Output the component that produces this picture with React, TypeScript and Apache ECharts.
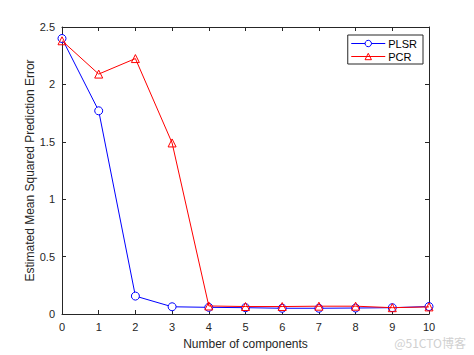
import React, { useEffect, useRef } from "react";
import * as echarts from "echarts";

const components = [0, 1, 2, 3, 4, 5, 6, 7, 8, 9, 10];
const plsrValues = [2.40, 1.77, 0.156, 0.063, 0.058, 0.055, 0.05, 0.05, 0.052, 0.055, 0.065];
const pcrValues = [2.38, 2.09, 2.225, 1.49, 0.07, 0.065, 0.065, 0.068, 0.068, 0.055, 0.062];
const xLabel = "Number of components";
const yLabel = "Estimated Mean Squared Prediction Error";

const FONT = "Liberation Sans, Arial, sans-serif";
const AX = "#262626";

export default function App() {
  const ref = useRef<HTMLDivElement>(null);
  useEffect(() => {
    if (!ref.current) return;
    const chart = echarts.init(ref.current, null, { renderer: "svg" });
    const pair = (vals: number[]) => components.map((c, i) => [c, vals[i]]);
    const baseX = {
      type: "value" as const,
      min: 0,
      max: 10,
      interval: 1,
      splitLine: { show: false },
      axisLine: { show: true, onZero: false, lineStyle: { color: AX, width: 1 } },
      axisTick: { show: true, inside: true, length: 4, lineStyle: { color: AX } },
    };
    const baseY = {
      type: "value" as const,
      min: 0,
      max: 2.5,
      interval: 0.5,
      splitLine: { show: false },
      axisLine: { show: true, onZero: false, lineStyle: { color: AX, width: 1 } },
      axisTick: { show: true, inside: true, length: 4, lineStyle: { color: AX } },
    };
    chart.setOption({
      animation: false,
      backgroundColor: "#fff",
      textStyle: { fontFamily: FONT },
      grid: { left: 62, top: 27, width: 367, height: 289, show: false },
      xAxis: [
        {
          ...baseX,
          position: "bottom",
          name: xLabel,
          nameLocation: "middle",
          nameGap: 24,
          nameMoveOverlap: false,
          nameTextStyle: { color: AX, fontSize: 12, fontFamily: FONT },
          axisLabel: { color: AX, fontSize: 11, margin: 7, fontFamily: FONT },
        },
        { ...baseX, position: "top", axisLabel: { show: false } },
      ],
      yAxis: [
        {
          ...baseY,
          position: "left",
          name: yLabel,
          nameLocation: "middle",
          nameGap: 26,
          nameMoveOverlap: false,
          nameTextStyle: { color: AX, fontSize: 12, fontFamily: FONT },
          axisLabel: { color: AX, fontSize: 11, margin: 7, fontFamily: FONT },
        },
        { ...baseY, position: "right", axisLabel: { show: false } },
      ],
      legend: {
        right: 51,
        top: 35,
        orient: "vertical",
        backgroundColor: "#fff",
        borderColor: AX,
        borderWidth: 1,
        borderRadius: 0,
        padding: [3, 6, 2, 3],
        itemGap: 2,
        itemWidth: 34,
        itemHeight: 8,
        lineStyle: { width: 1 },
        itemStyle: { borderWidth: 1 },
        textStyle: { color: "#000", fontSize: 11, fontFamily: FONT, padding: [0, 0, 0, -2] },
        data: ["PLSR", "PCR"],
      },
      series: [
        {
          name: "PLSR",
          type: "line",
          data: pair(plsrValues),
          symbol: "circle",
          symbolSize: 8,
          showAllSymbol: true,
          lineStyle: { color: "#0000ff", width: 1 },
          itemStyle: { color: "#fff", borderColor: "#0000ff", borderWidth: 1 },
          emphasis: { disabled: true },
          z: 3,
        },
        {
          name: "PCR",
          type: "line",
          data: pair(pcrValues),
          symbol: "triangle",
          symbolSize: 8,
          showAllSymbol: true,
          lineStyle: { color: "#ff0000", width: 1 },
          itemStyle: { color: "rgba(255,255,255,0)", borderColor: "#ff0000", borderWidth: 1 },
          emphasis: { disabled: true },
          z: 4,
        },
      ],
      graphic: [
        {
          type: "text",
          right: 8,
          top: 336,
          style: { text: "@51CTO博客", fill: "#d0d0d0", fontSize: 12, fontFamily: "Noto Sans CJK SC, sans-serif" },
        },
      ],
    });
    return () => chart.dispose();
  }, []);
  return (
    <div
      ref={ref}
      style={{ position: "fixed", left: 0, top: 0, width: 474, height: 355 }}
    />
  );
}
